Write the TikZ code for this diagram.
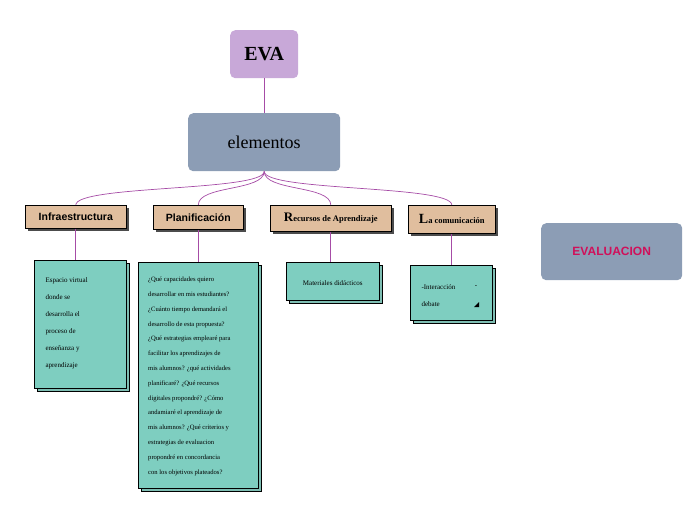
\documentclass[tikz,border=0pt]{standalone}
\usepackage{fontspec}
\setmainfont{Liberation Serif}
\newfontfamily\sansb{Liberation Sans}
\usetikzlibrary{calc}
\begin{document}
\begin{tikzpicture}[x=1pt,y=-1pt,
 conn/.style={draw=violet!70!white, line width=0.7pt},
 top/.style={rounded corners=5pt, draw=none, anchor=north west, inner sep=0pt},
 cat/.style={draw=black, fill=tanc, anchor=north west, inner sep=0pt, line width=0.6pt},
 leaf/.style={draw=black, fill=tealc, anchor=north west, inner sep=0pt, line width=0.6pt},
 sh/.style={draw=black, fill=tealc!80!gray, line width=0.6pt}]
\definecolor{tanc}{HTML}{E0BE9E}
\definecolor{tealc}{HTML}{7ECEC0}
\definecolor{lav}{HTML}{C8A8D8}
\definecolor{slate}{HTML}{8C9DB5}
\definecolor{crim}{HTML}{D0105A}
\useasboundingbox (0,0) rectangle (696,520);
% top nodes
\node[top, fill=lav, minimum width=68pt, minimum height=48pt] (eva) at (230,30) {};
\node at (eva.center) {\fontsize{20}{22}\selectfont\bfseries EVA};
\node[top, fill=slate, minimum width=152pt, minimum height=58pt] (el) at (188,113) {};
\node at (el.center) {\fontsize{18}{20}\selectfont elementos};
\node[top, fill=slate, minimum width=141pt, minimum height=57pt] (ev) at (541,223) {};
\node at (ev.center) {\sansb\fontsize{12}{14}\selectfont\bfseries\color{crim}EVALUACION};
\draw[conn] (eva.south) -- (el.north);
% categories with shadows
\foreach \x/\y/\w/\h in {25/205/101/23, 153/205/90/24, 270/205/121/26, 408/205/87/28}
  \fill[black!70] (\x+3,\y+3) rectangle (\x+\w+3,\y+\h+3);
\node[cat, minimum width=101pt, minimum height=23pt] (c1) at (25,205) {};
\node at (c1.center) {\sansb\fontsize{10.5}{12}\selectfont\bfseries Infraestructura};
\node[cat, minimum width=90pt, minimum height=24pt] (c2) at (153,205) {};
\node at (c2.center) {\sansb\fontsize{10.5}{12}\selectfont\bfseries Planificación};
\node[cat, minimum width=121pt, minimum height=26pt] (c3) at (270,205) {};
\node at (c3.center) {\fontsize{8.5}{10}\selectfont\bfseries{\fontsize{13}{14}\selectfont R}ecursos de Aprendizaje};
\node[cat, minimum width=87pt, minimum height=28pt] (c4) at (408,205) {};
\node at (c4.center) {\fontsize{8.5}{10}\selectfont\bfseries{\fontsize{14}{14}\selectfont L}a comunicación};
\foreach \n in {c1,c2,c3,c4}
  \draw[conn] (el.south) .. controls ($(el.south)+(0,20)$) and ($(\n.north)+(0,-20)$) .. (\n.north);
% leaves shadows
\foreach \x/\y/\w/\h in {34/260/92/128, 138/262/120/226, 286/262/93/38, 410/265/82/55}
  \draw[sh] (\x+3,\y+3) rectangle (\x+\w+3,\y+\h+3);
\node[leaf, minimum width=92pt, minimum height=128pt] (l1) at (34,260) {};
\node[anchor=north west, align=left, font=\fontsize{7}{17}\selectfont] at (42,274)
 {Espacio virtual\\donde se\\desarrolla el\\proceso de\\enseñanza y\\aprendizaje};
\node[leaf, minimum width=120pt, minimum height=226pt] (l2) at (138,262) {};
\node[anchor=north west, align=left, font=\fontsize{6.6}{14.8}\selectfont, inner sep=0pt] at (148,277)
 {¿Qué capacidades quiero\\desarrollar en mis estudiantes?\\¿Cuánto tiempo demandará el\\desarrollo de esta propuesta?\\¿Qué estrategias emplearé para\\facilitar los aprendizajes de\\mis alumnos? ¿qué actividades\\planificaré? ¿Qué recursos\\digitales  propondré? ¿Cómo\\andamiaré el aprendizaje de\\mis alumnos? ¿Qué criterios y\\estrategias de evaluacion\\propondré en concordancia\\con los objetivos plateados?};
\node[leaf, minimum width=93pt, minimum height=38pt] (l3) at (286,262) {};
\node[font=\fontsize{7}{8}\selectfont] at ($(l3.center)+(0,2)$) {Materiales didácticos};
\node[leaf, minimum width=82pt, minimum height=55pt] (l4) at (410,265) {};
\node[anchor=west, font=\fontsize{7}{8}\selectfont] at (418,287) {-Interacción};
\node[font=\fontsize{7}{8}\selectfont] at (476,287) {-};
\node[anchor=west, font=\fontsize{7}{8}\selectfont] at (418,304) {debate};
\fill (474,307) -- (479,302) -- (479,307) -- cycle;
\draw[conn] (c1.south) -- (c1.south |- l1.north);
\draw[conn] (c2.south) -- (c2.south |- l2.north);
\draw[conn] (c3.south) -- (c3.south |- l3.north);
\draw[conn] (c4.south) -- (c4.south |- l4.north);
\end{tikzpicture}
\end{document}
